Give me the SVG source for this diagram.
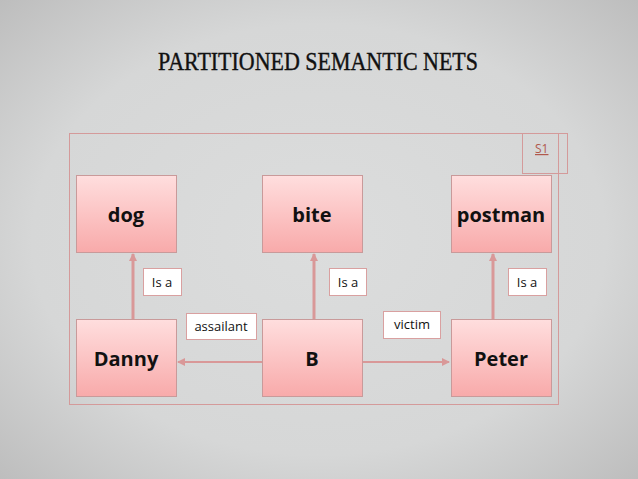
<svg xmlns="http://www.w3.org/2000/svg" width="638" height="479" viewBox="0 0 638 479">
<defs>
<radialGradient id="bg" cx="50%" cy="50%" r="75%">
<stop offset="0" stop-color="#dcdddd"/>
<stop offset="0.6" stop-color="#d6d7d7"/>
<stop offset="1" stop-color="#b9b9b9"/>
</radialGradient>
<linearGradient id="nf" x1="0" y1="0" x2="0" y2="1">
<stop offset="0" stop-color="#ffdede"/>
<stop offset="1" stop-color="#f8aaaa"/>
</linearGradient>
<marker id="ah" markerWidth="10" markerHeight="10" refX="7" refY="5" orient="auto" markerUnits="userSpaceOnUse">
<path d="M0,1 L8,5 L0,9 Z" fill="#d99898"/>
</marker>
<style>
.node{fill:url(#nf);stroke:#c99a9a;stroke-width:1}
.nt{font-family:"Open Sans","Liberation Sans",sans-serif;font-weight:bold;font-size:20px;fill:#111;text-anchor:middle}
.lb{fill:#fff;stroke:#d9a0a0;stroke-width:1}
.lt{font-family:"Open Sans","Liberation Sans",sans-serif;font-size:13px;fill:#111;text-anchor:middle}
.cn{stroke:#d99898;stroke-width:3;fill:none;marker-end:url(#ah)}
.cnh{stroke:#d99898;stroke-width:2;fill:none;marker-end:url(#ah)}
</style>
</defs>
<rect width="638" height="479" fill="url(#bg)"/>
<text x="318" y="70" font-family="'Liberation Serif',serif" font-size="26" fill="#111" stroke="#111" stroke-width="0.4" text-anchor="middle" textLength="320" lengthAdjust="spacingAndGlyphs">PARTITIONED SEMANTIC NETS</text>
<g id="partition">
<rect x="69.5" y="133.5" width="489" height="271" fill="none" stroke="#d49a9a" stroke-width="1"/>
<rect x="522.5" y="133.5" width="45" height="40" fill="none" stroke="#d49a9a" stroke-width="1"/>
<text x="535" y="153" font-family="'Open Sans','Liberation Sans',sans-serif" font-size="12" fill="#b0584c" text-decoration="underline">S1</text>
</g>
<g id="connectors">
<line class="cn" x1="133" y1="319" x2="133" y2="254"/>
<line class="cn" x1="314" y1="319" x2="314" y2="254"/>
<line class="cn" x1="493" y1="319" x2="493" y2="254"/>
<line class="cnh" x1="262" y1="362" x2="178" y2="362"/>
<line class="cnh" x1="362" y1="362" x2="449" y2="362"/>
</g>
<g id="dog"><rect class="node" x="76.5" y="175.5" width="100" height="77"/><text class="nt" x="126" y="222">dog</text></g>
<g id="bite"><rect class="node" x="262.5" y="175.5" width="100" height="77"/><text class="nt" x="312" y="222">bite</text></g>
<g id="postman"><rect class="node" x="451.5" y="175.5" width="100" height="77"/><text class="nt" x="501" y="222">postman</text></g>
<g id="Danny"><rect class="node" x="76.5" y="319.5" width="100" height="77"/><text class="nt" x="126" y="366">Danny</text></g>
<g id="B"><rect class="node" x="262.5" y="319.5" width="100" height="77"/><text class="nt" x="312" y="366">B</text></g>
<g id="Peter"><rect class="node" x="451.5" y="319.5" width="100" height="77"/><text class="nt" x="501" y="366">Peter</text></g>
<g id="labels">
<rect class="lb" x="143.5" y="268.5" width="38" height="27"/><text class="lt" x="162" y="287">Is a</text>
<rect class="lb" x="329.5" y="268.5" width="37" height="27"/><text class="lt" x="348" y="287">Is a</text>
<rect class="lb" x="508.5" y="268.5" width="38" height="27"/><text class="lt" x="527" y="287">Is a</text>
<rect class="lb" x="186.5" y="313.5" width="70" height="26"/><text class="lt" x="221" y="331">assailant</text>
<rect class="lb" x="383.5" y="311.5" width="57" height="27"/><text class="lt" x="412" y="329">victim</text>
</g>
</svg>
